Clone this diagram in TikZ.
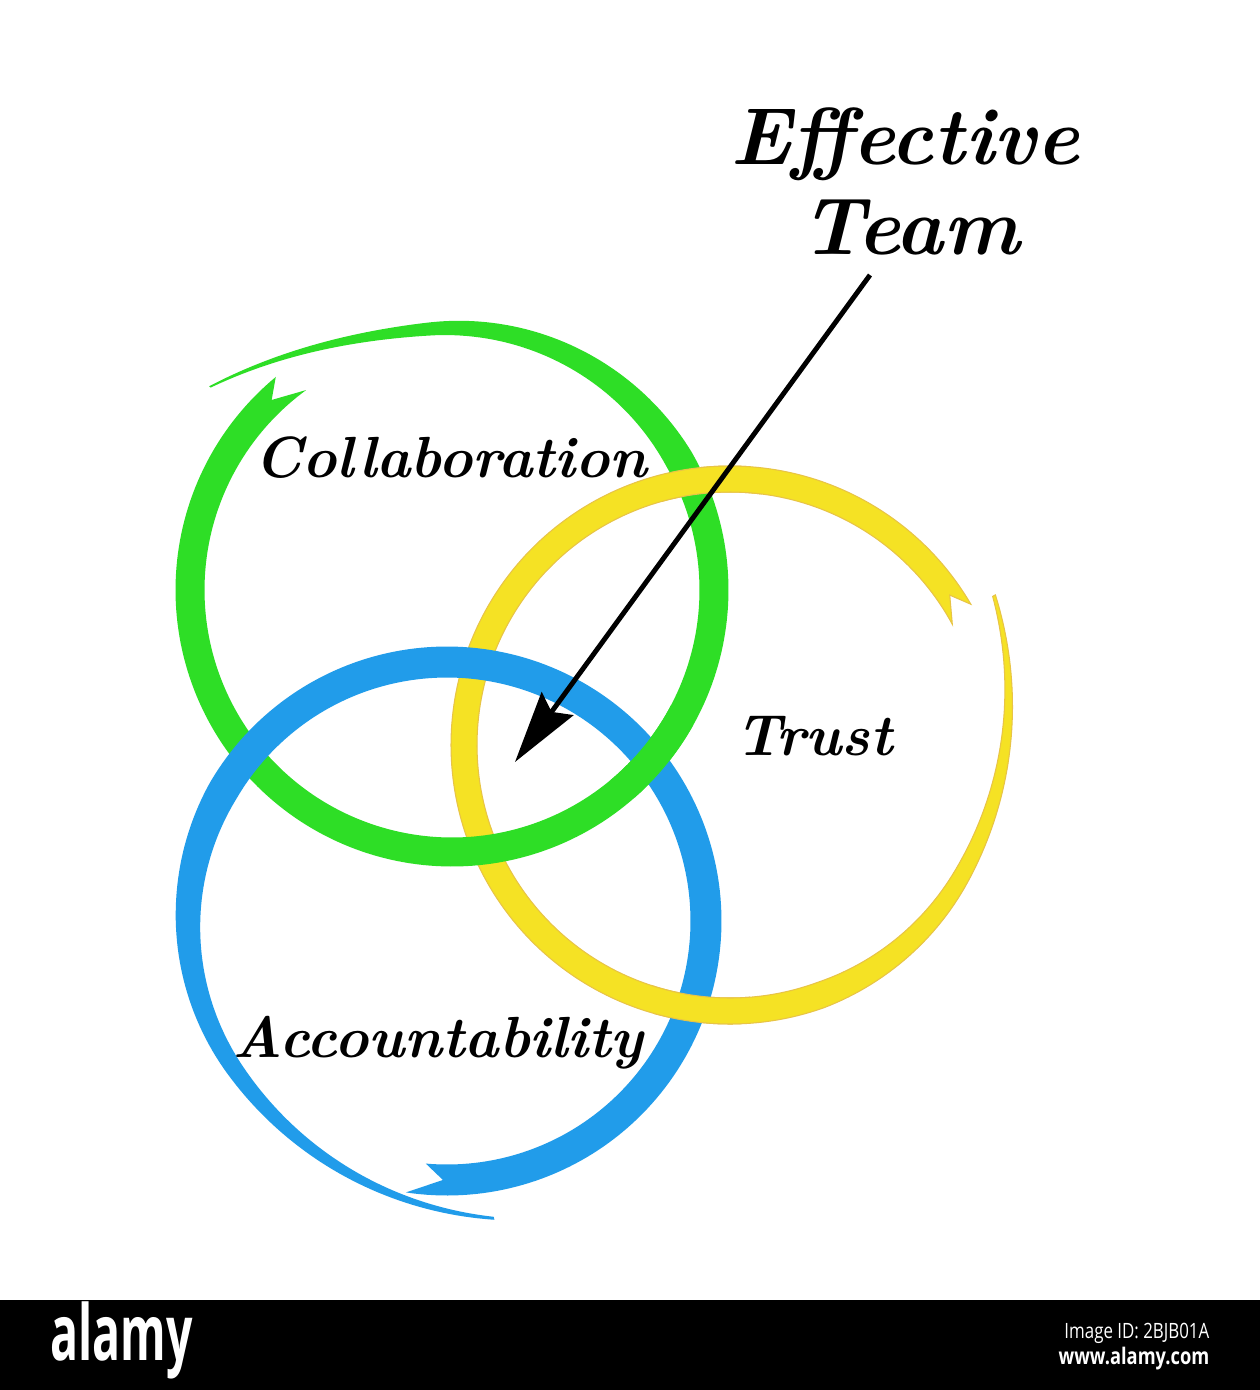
\documentclass[tikz,border=0pt]{standalone}
\usepackage{fontspec}
\newfontfamily\barfont{Open Sans}
\usetikzlibrary{arrows.meta}
\definecolor{ringgreen}{RGB}{46,222,38}
\definecolor{ringblue}{RGB}{33,156,234}
\definecolor{ringyellow}{RGB}{245,226,36}
\definecolor{yedge}{RGB}{232,196,70}
% #1 style, #2 cx, #3 cy, #4 radius fn, #5 width fn, #6 outer tip angle, #7 inner tip angle, #8 notch angle, #9 end angle
\newcommand\ringband[9]{%
  \fill[#1] plot[domain=#6:#9, samples=260, variable=\t]
      ({#2+(#4(\t)+#5(\t)/2)*cos(\t)},{#3+(#4(\t)+#5(\t)/2)*sin(\t)})
    -- plot[domain=#9:#7, samples=260, variable=\t]
      ({#2+(#4(\t)-#5(\t)/2)*cos(\t)},{#3+(#4(\t)-#5(\t)/2)*sin(\t)})
    -- ({#2+#4(#8)*cos(#8)},{#3+#4(#8)*sin(#8)}) -- cycle;}
\newcommand\greenring{\ringband{ringgreen}{452}{590}{Rg}{Wg}{230.4}{233.9}{226.5}{-140}}
\newcommand\bluering{\ringband{ringblue}{447}{921}{Rb}{Wb}{98.6}{95}{90.9}{-279}}
\newcommand\yellowring{\ringband{ringyellow,draw=yedge,line width=0.3pt}{730}{745}{Ry}{Wy}{-30.3}{-28.5}{-34.3}{-389.5}}
\begin{document}
\begin{tikzpicture}[x=0.01cm,y=-0.01cm,
  declare function={
    Rg(\t)=262+((\t)<-95)*54*((-95-(\t))/45)^2;
    Wg(\t)=((\t)>-30)*29+((\t)<=-30)*(29-27*(-30-(\t))/110);
    Rb(\t)=259+((\t)<-215)*42*((-215-(\t))/64)^2;
    Wb(\t)=((\t)>-150)*31+((\t)<=-150)*(31-28*(-150-(\t))/129);
    Ry(\t)=266+((\t)<-330)*38*((-330-(\t))/60)^2;
    Wy(\t)=((\t)>-290)*26+((\t)<=-290)*(26-23*(-290-(\t))/100);
  },
  title/.style={font=\bfseries\itshape\fontsize{23}{27}\selectfont, inner sep=0pt, anchor=base},
  circlelabel/.style={font=\bfseries\itshape\fontsize{16.5}{20}\selectfont, inner sep=0pt, anchor=base},
  pointer/.style={line width=1.4pt, -{Stealth[length=7.2mm,width=3.9mm,inset=1mm]}},
  bartext/.style={text=white, inner sep=0pt}]
\useasboundingbox (0,0) rectangle (1260,1390);
\fill[white] (0,0) rectangle (1260,1390);

% rings: base order
\yellowring
\greenring
\bluering
% interlacing fixes
\begin{scope}\clip (650,750) circle (50);\greenring\end{scope}
\begin{scope}\clip (700,995) circle (50);\yellowring\end{scope}
\begin{scope}\clip (712,500) circle (50);\yellowring\end{scope}

% labels
\node[title] (effective) at (905,164) {Effective};
\node[title] (team) at (910,254) {Team};
\node[circlelabel] (collab) at (451,477) {Collaboration};
\node[circlelabel] (trust) at (814,755) {Trust};
\node[circlelabel] (account) at (438,1057) {Accountability};

% arrow
\coordinate (arrtail) at (870,275);
\coordinate (arrtip) at (515,762);
\draw[pointer] (arrtail) -- (arrtip);

% bottom bar
\fill[black] (0,1300) rectangle (1260,1390);
\node[bartext, anchor=base west] (alamy) at (50,1360)
  {\scalebox{0.6}[1]{\barfont\bfseries\fontsize{22}{24}\selectfont alamy}};
\node[bartext, anchor=base east] (imgid) at (1210,1338)
  {\scalebox{0.8}[1]{\barfont\fontsize{6}{7}\selectfont Image ID: 2BJB01A}};
\node[bartext, anchor=base east] (www) at (1210,1364)
  {\scalebox{0.8}[1]{\barfont\bfseries\fontsize{6.5}{7}\selectfont www.alamy.com}};
\end{tikzpicture}
\end{document}
